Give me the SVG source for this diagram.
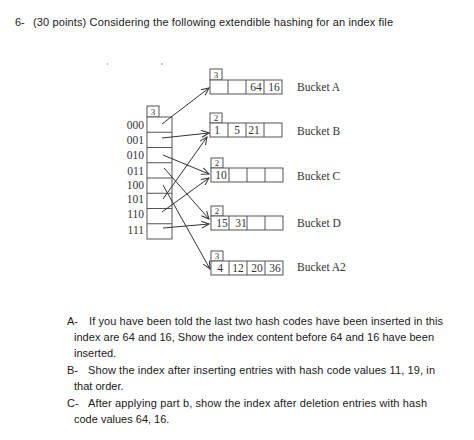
<svg xmlns="http://www.w3.org/2000/svg" width="474" height="440" viewBox="0 0 474 440">
<defs>
<marker id="ah" markerWidth="9" markerHeight="8" refX="8" refY="4" orient="auto" markerUnits="userSpaceOnUse">
<path d="M0.5,0.5 L8,4 L0.5,7.5" fill="none" stroke="#333" stroke-width="1"/>
</marker>
</defs>
<style>
.q{font-family:"Liberation Sans",Arial,sans-serif;font-size:11px;fill:#1a1a1a}
.t{font-family:"Liberation Serif","Times New Roman",serif;font-size:11.5px;fill:#333}
.s{font-family:"Liberation Serif","Times New Roman",serif;font-size:9px;fill:#333;text-anchor:middle}
.c{text-anchor:middle}
.box{fill:#fff;stroke:#555;stroke-width:1}
.ln{stroke:#555;stroke-width:1}
.ar{stroke:#333;stroke-width:1;fill:none;marker-end:url(#ah)}
</style>
<rect width="474" height="440" fill="#fff"/>
<g id="title">
<text class="q" x="15" y="26">6-</text>
<text class="q" x="33" y="26" textLength="360" lengthAdjust="spacing">(30 points) Considering the following extendible hashing for an index file</text>
</g>
<circle cx="107.5" cy="64" r="0.7" fill="#888"/>
<circle cx="162" cy="64" r="0.8" fill="#666"/>
<g id="directory">
<rect class="box" x="147" y="106" width="12" height="11"/>
<text class="s" x="153" y="115">3</text>
<rect class="box" x="147" y="117" width="25" height="122"/>
<line class="ln" x1="147" y1="132.25" x2="172" y2="132.25"/>
<line class="ln" x1="147" y1="147.5" x2="172" y2="147.5"/>
<line class="ln" x1="147" y1="162.75" x2="172" y2="162.75"/>
<line class="ln" x1="147" y1="178" x2="172" y2="178"/>
<line class="ln" x1="147" y1="193.25" x2="172" y2="193.25"/>
<line class="ln" x1="147" y1="208.5" x2="172" y2="208.5"/>
<line class="ln" x1="147" y1="223.75" x2="172" y2="223.75"/>
<g class="t" text-anchor="end">
<text x="144" y="129">000</text>
<text x="144" y="144">001</text>
<text x="144" y="159">010</text>
<text x="144" y="175">011</text>
<text x="144" y="189">100</text>
<text x="144" y="203">101</text>
<text x="144" y="218">110</text>
<text x="144" y="234">111</text>
</g>
</g>
<g id="bucketA">
<rect class="box" x="210" y="69" width="12" height="11"/>
<text class="s" x="216" y="78">3</text>
<rect class="box" x="210" y="80" width="72" height="14"/>
<line class="ln" x1="228" y1="80" x2="228" y2="94"/><line class="ln" x1="246" y1="80" x2="246" y2="94"/><line class="ln" x1="264" y1="80" x2="264" y2="94"/>
<text class="t c" x="256" y="91">64</text><text class="t c" x="274" y="91">16</text>
<text class="t" x="297" y="91">Bucket A</text>
</g>
<g id="bucketB">
<rect class="box" x="210" y="113" width="12" height="10"/>
<text class="s" x="216" y="121">2</text>
<rect class="box" x="210" y="123" width="72" height="14"/>
<line class="ln" x1="228" y1="123" x2="228" y2="137"/><line class="ln" x1="246" y1="123" x2="246" y2="137"/><line class="ln" x1="264" y1="123" x2="264" y2="137"/>
<text class="t c" x="217" y="134">1</text><text class="t c" x="237" y="134">5</text><text class="t c" x="254" y="134">21</text>
<text class="t" x="297" y="135">Bucket B</text>
</g>
<g id="bucketC">
<rect class="box" x="211" y="158" width="12" height="10"/>
<text class="s" x="217" y="166">2</text>
<rect class="box" x="211" y="168" width="72" height="14"/>
<line class="ln" x1="229" y1="168" x2="229" y2="182"/><line class="ln" x1="247" y1="168" x2="247" y2="182"/><line class="ln" x1="265" y1="168" x2="265" y2="182"/>
<text class="t c" x="221" y="179">10</text>
<text class="t" x="297" y="180">Bucket C</text>
</g>
<g id="bucketD">
<rect class="box" x="211" y="206" width="12" height="10"/>
<text class="s" x="217" y="214">2</text>
<rect class="box" x="211" y="216" width="72" height="14"/>
<line class="ln" x1="229" y1="216" x2="229" y2="230"/><line class="ln" x1="247" y1="216" x2="247" y2="230"/><line class="ln" x1="265" y1="216" x2="265" y2="230"/>
<text class="t c" x="222" y="227">15</text><text class="t c" x="241" y="227">31</text>
<text class="t" x="297" y="227">Bucket D</text>
</g>
<g id="bucketA2">
<rect class="box" x="211" y="251" width="12" height="10"/>
<text class="s" x="217" y="259">3</text>
<rect class="box" x="211" y="261" width="72" height="14"/>
<line class="ln" x1="229" y1="261" x2="229" y2="275"/><line class="ln" x1="247" y1="261" x2="247" y2="275"/><line class="ln" x1="265" y1="261" x2="265" y2="275"/>
<text class="t c" x="220" y="272">4</text><text class="t c" x="238" y="272">12</text><text class="t c" x="257" y="272">20</text><text class="t c" x="275" y="272">36</text>
<text class="t" x="297" y="271">Bucket A2</text>
</g>
<g id="connectors">
<line class="ar" x1="162" y1="124" x2="209" y2="88"/>
<line class="ar" x1="162" y1="138" x2="209" y2="133"/>
<line class="ar" x1="163" y1="155" x2="209" y2="174"/>
<line class="ar" x1="164" y1="168" x2="209" y2="219"/>
<line class="ar" x1="163" y1="185" x2="210" y2="269"/>
<line class="ar" x1="163" y1="199" x2="207" y2="137"/>
<line class="ar" x1="162" y1="212" x2="209" y2="178"/>
<line class="ar" x1="163" y1="228" x2="209" y2="224"/>
</g>
<g id="questions">
<text class="q" x="67" y="325">A-</text>
<text class="q" x="89" y="325" textLength="354" lengthAdjust="spacing">If you have been told the last two hash codes have been inserted in this</text>
<text class="q" x="74" y="341" textLength="360" lengthAdjust="spacing">index are 64 and 16, Show the index content before 64 and 16 have been</text>
<text class="q" x="74" y="357">inserted.</text>
<text class="q" x="67" y="374">B-</text>
<text class="q" x="88" y="374" textLength="347" lengthAdjust="spacing">Show the index after inserting entries with hash code values 11, 19, in</text>
<text class="q" x="74" y="390">that order.</text>
<text class="q" x="67" y="407">C-</text>
<text class="q" x="88" y="407" textLength="339" lengthAdjust="spacing">After applying part b, show the index after deletion entries with hash</text>
<text class="q" x="74" y="423">code values 64, 16.</text>
</g>
</svg>
